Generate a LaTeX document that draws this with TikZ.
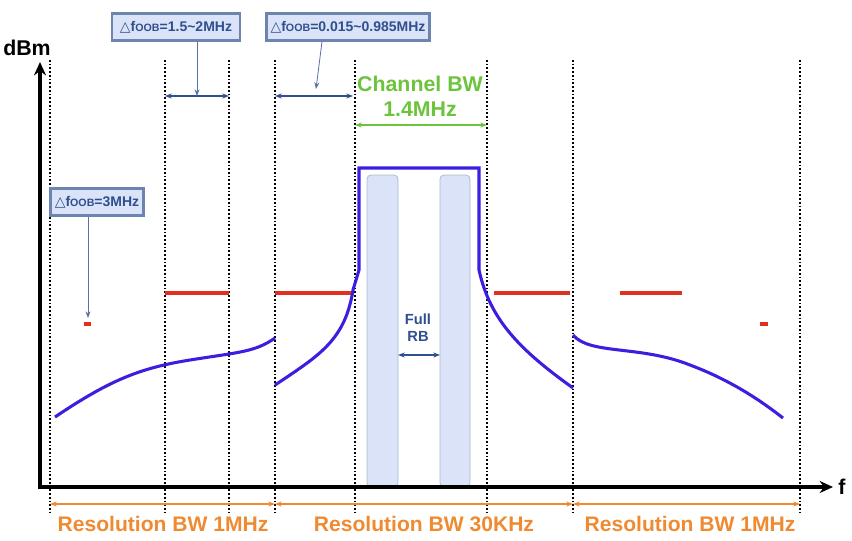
\documentclass[tikz,border=0pt]{standalone}
\usepackage{fontspec}
\setmainfont{Liberation Sans}
\newfontfamily\dejavu{DejaVu Sans}
\usetikzlibrary{arrows.meta}
\definecolor{dblue}{HTML}{2F4F8F}
\definecolor{cblue}{HTML}{3B1FE0}
\definecolor{lblue}{HTML}{DAE3F7}
\definecolor{ored}{HTML}{E03020}
\definecolor{orng}{HTML}{F08A30}
\definecolor{grn}{HTML}{6CC33C}
\tikzset{
 dotl/.style={line width=1.5pt,dash pattern=on 1.3pt off 1.5pt},
 dim/.style={dblue,line width=0.9pt,{Stealth[length=5pt]}-{Stealth[length=5pt]}},
 lbox/.style={draw=dblue!70,line width=2pt,fill=lblue,font=\bfseries\fontsize{10.5}{11}\selectfont,text=dblue,inner sep=3pt,minimum height=20pt},
 ptr/.style={dblue!80,line width=0.6pt,-{Stealth[length=5pt]}},
 redl/.style={ored,line width=2.5pt},
 curve/.style={cblue,line width=2.3pt},
 rb/.style={fill=lblue,draw=dblue!40,rounded corners=3pt,line width=0.6pt},
 olbl/.style={orng,font=\bfseries\fontsize{15.8}{17}\selectfont},
 oarr/.style={orng,line width=0.9pt,{Stealth[length=5pt]}-{Stealth[length=5pt]}}
}
\newcommand{\dfoob}{{\dejavu\mdseries △}f{\fontsize{8}{9}\selectfont OOB}}
\begin{document}
\begin{tikzpicture}[x=0.75pt,y=-0.75pt]
\useasboundingbox (0,0) rectangle (852,540);
\draw[rb] (367,175) rectangle (398,487);
\draw[rb] (440,175) rectangle (470,487);
\foreach \x in {50,165,229,275,355,487,573,800}{\draw[dotl] (\x,60) -- (\x,515);}
\draw[line width=3pt,-{Stealth[length=10pt,width=9pt]}] (40,487) -- (40,62);
\draw[line width=3pt,-{Stealth[length=10pt,width=9pt]}] (38,487) -- (833,487);
\node[font=\bfseries\fontsize{16}{17}\selectfont] (dbm) at (27,48) {dBm};
\node[font=\bfseries\fontsize{16}{17}\selectfont] (f) at (842,487) {f};
\draw[redl] (84,324) -- (91,324);
\draw[redl] (165,293) -- (229,293);
\draw[redl] (275,293) -- (353,293);
\draw[redl] (494,293) -- (570,293);
\draw[redl] (620,293) -- (682,293);
\draw[redl] (760,324) -- (768,324);
\draw[curve] (55,417) .. controls (110,380) and (140,368) .. (190,360) .. controls (240,352) and (255,352) .. (275,338);
\draw[curve] (275,385) .. controls (320,355) and (345,340) .. (353,290) -- (359,270) -- (359,168) -- (479,168) -- (479,270) .. controls (490,320) and (520,350) .. (573,388);
\draw[curve] (573,335) .. controls (590,355) and (640,345) .. (690,365) .. controls (730,380) and (760,400) .. (783,418);
\node[font=\bfseries\fontsize{11}{13}\selectfont,text=dblue,align=center] (frb) at (418,328) {Full\\RB};
\draw[dim] (398,355) -- (440,355);
\node[font=\bfseries\fontsize{16}{19}\selectfont,text=grn,align=center] (cbw) at (420,96) {Channel BW\\1.4MHz};
\draw[grn,line width=0.9pt,{Stealth[length=5pt]}-{Stealth[length=5pt]}] (355,125) -- (487,125);
\coordinate (a1) at (165,96); \coordinate (a2) at (229,96);
\coordinate (b1) at (275,96); \coordinate (b2) at (353,96);
\draw[dim] (a1) -- (a2);
\draw[dim] (b1) -- (b2);
\node[lbox,minimum width=128pt*0.75] (l1) at (176,27) {\dfoob=1.5\textasciitilde2MHz};
\node[lbox,minimum width=160pt*0.75] (l2) at (348,27) {\dfoob=0.015\textasciitilde0.985MHz};
\node[lbox,minimum width=92pt*0.75] (l3) at (97,202) {\dfoob=3MHz};
\coordinate (p1) at (197,96); \coordinate (p2) at (316,89); \coordinate (p3) at (88,318);
\draw[ptr] (l1.south -| 197,0) -- (p1);
\draw[ptr] (l2.south -| 322,0) -- (p2);
\draw[ptr] (l3.south -| 88,0) -- (p3);
\draw[oarr] (50,504) -- (275,504);
\draw[oarr] (275,504) -- (573,504);
\draw[oarr] (573,504) -- (800,504);
\node[olbl] (r1) at (163,524) {Resolution BW 1MHz};
\node[olbl] (r2) at (424,524) {Resolution BW 30KHz};
\node[olbl] (r3) at (690,524) {Resolution BW 1MHz};
\end{tikzpicture}
\end{document}
